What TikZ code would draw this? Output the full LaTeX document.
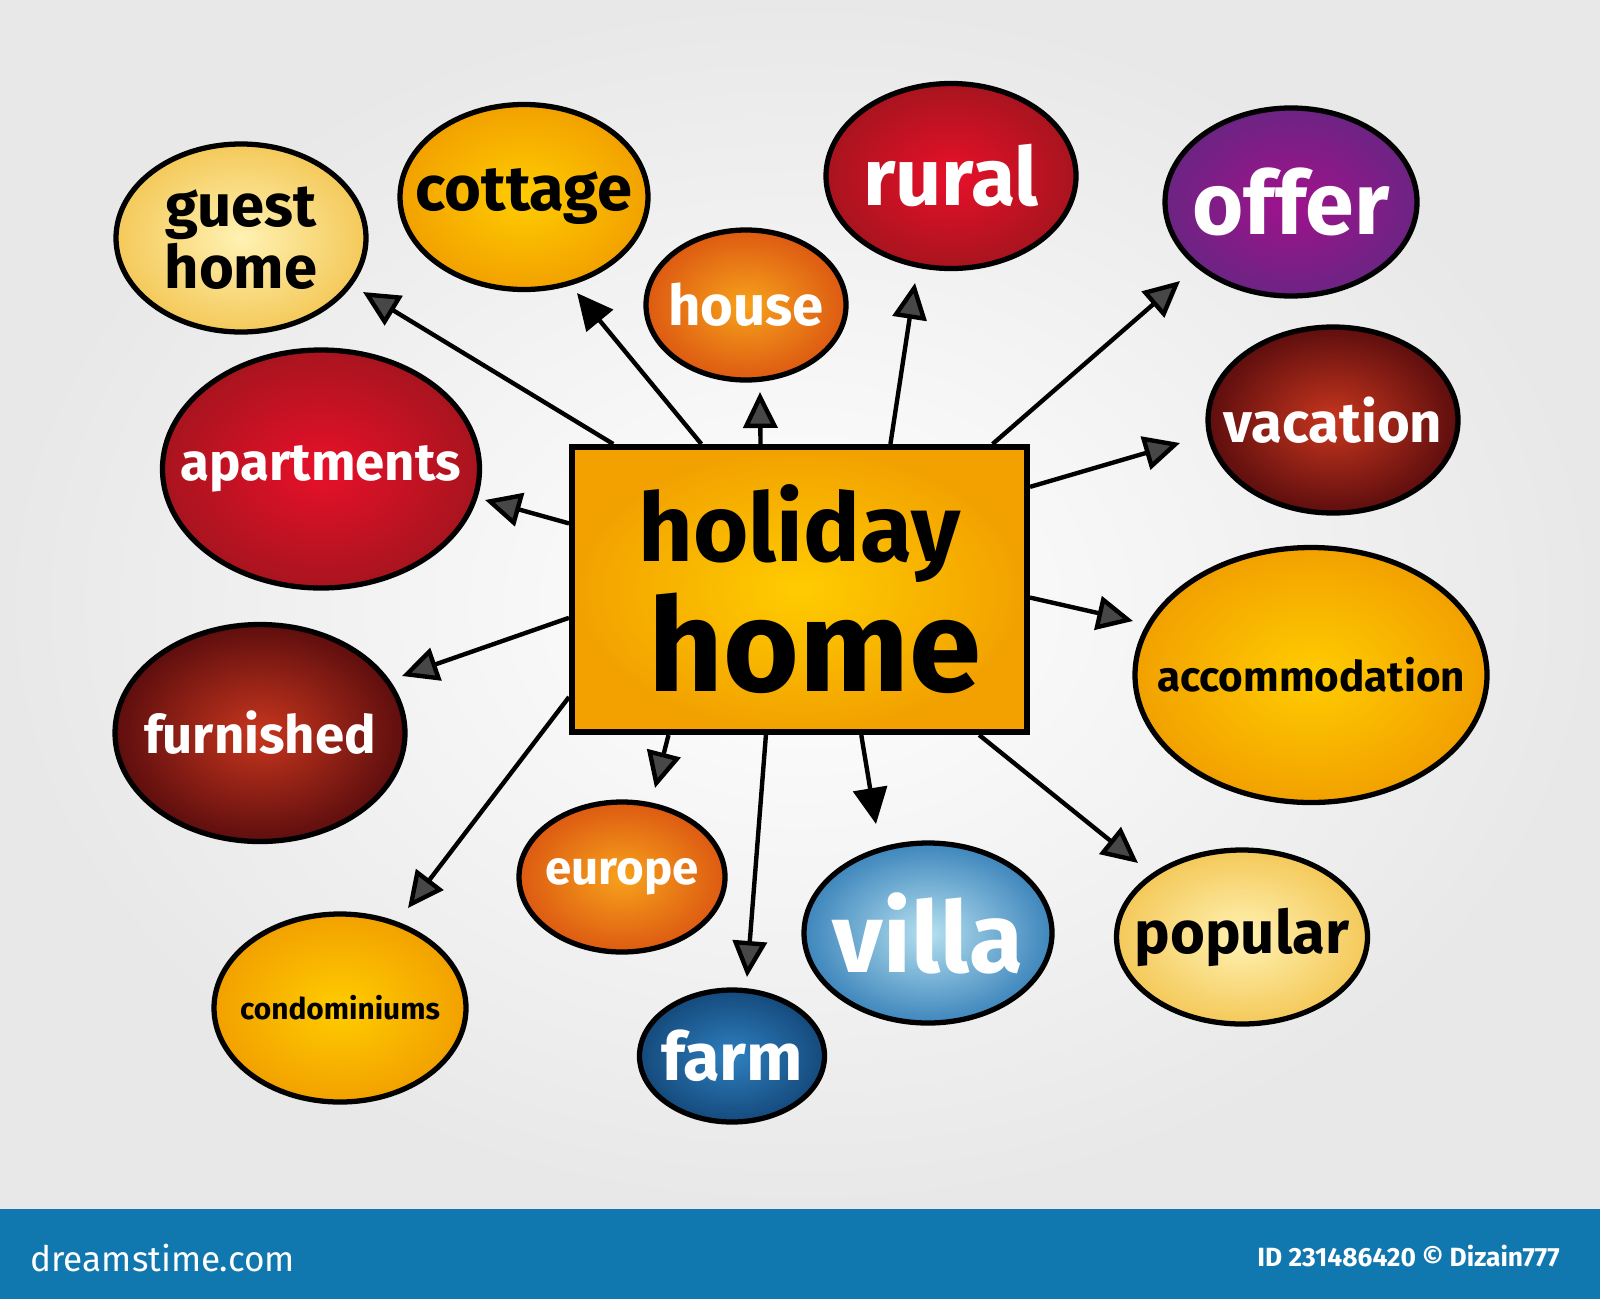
\documentclass[tikz,border=0pt]{standalone}
\usepackage{fontspec}
\setmainfont{Fira Sans}
\usepackage{xcolor}
\usetikzlibrary{shapes.geometric,arrows.meta}

\definecolor{bannerblue}{HTML}{1177AF}
\definecolor{ghin}{HTML}{FFF2B3}\definecolor{ghout}{HTML}{F4C95A}
\definecolor{ylin}{HTML}{FFCC00}\definecolor{ylout}{HTML}{F2A100}
\definecolor{orin}{HTML}{F7A21B}\definecolor{orout}{HTML}{DD5A12}
\definecolor{rdin}{HTML}{E8102A}\definecolor{rdout}{HTML}{A8141E}
\definecolor{puin}{HTML}{A0128C}\definecolor{puout}{HTML}{6C2483}
\definecolor{brin}{HTML}{C8361E}\definecolor{brout}{HTML}{5E0E0E}
\definecolor{blin}{HTML}{B5E0F0}\definecolor{blout}{HTML}{3E86BC}
\definecolor{dbin}{HTML}{2E80C0}\definecolor{dbout}{HTML}{154A7C}

\begin{document}
\begin{tikzpicture}[>=Triangle,
  bub/.style={ellipse, draw, line width=1.5pt, inner xsep=-1.2cm, inner ysep=0pt},
  hatch/.style={-{Triangle[length=3.6mm,width=3.4mm,fill=black!72]}, line width=1.25pt},
  fullhead/.style={-{Triangle[length=3.6mm,width=3.4mm]}, line width=1.25pt}]

% Draw background and banner
\useasboundingbox (0,0) rectangle (16,-12.99);
\shade[inner color=white, outer color=black!9] (0,0) rectangle (16,-12.09);
\fill[bannerblue] (0,-12.09) rectangle (16,-12.99);
\node[anchor=west, text=white, font=\fontsize{10}{10}\selectfont] (site) at (0.18,-12.58) {dreamstime.com};
\node[anchor=east, text=white, font=\bfseries\fontsize{7.5}{8}\selectfont] (ident) at (15.72,-12.56) {ID 231486420 © Dizain777};

% Draw central box
\node[draw, line width=1.7pt, inner color=ylin, outer color=ylout, minimum width=4.55cm, minimum height=2.85cm,
  align=center, font=\bfseries] (hh) at (7.995,-5.895)
  {\fontsize{27}{27}\selectfont holiday\\[2pt]\hspace*{0.3cm}\fontsize{37}{37}\selectfont home};

% Draw bubbles
\node[bub, minimum width=2.50cm, minimum height=1.88cm, inner color=ghin, outer color=ghout, align=center,
  font=\bfseries\fontsize{17}{16}\selectfont] (guest) at (2.41,-2.38) {guest\\home};
\node[bub, minimum width=2.48cm, minimum height=1.85cm, inner color=ylin, outer color=ylout,
  font=\bfseries\fontsize{18}{18}\selectfont] (cottage) at (5.24,-1.97) {cottage};
\node[bub, minimum width=2.00cm, minimum height=1.50cm, inner color=orin, outer color=orout, text=white,
  font=\bfseries\fontsize{16}{16}\selectfont] (house) at (7.46,-3.05) {house};
\node[bub, minimum width=2.50cm, minimum height=1.85cm, inner color=rdin, outer color=rdout, text=white,
  font=\bfseries\fontsize{23}{23}\selectfont] (rural) at (9.51,-1.76) {rural};
\node[bub, minimum width=2.52cm, minimum height=1.88cm, inner color=puin, outer color=puout, text=white,
  font=\bfseries\fontsize{25}{25}\selectfont] (offer) at (12.91,-2.02) {offer};
\node[bub, minimum width=2.50cm, minimum height=1.86cm, inner color=brin, outer color=brout, text=white,
  font=\bfseries\fontsize{16}{16}\selectfont] (vacation) at (13.33,-4.20) {vacation};
\node[bub, minimum width=3.17cm, minimum height=2.38cm, inner color=rdin, outer color=rdout, text=white,
  font=\bfseries\fontsize{15}{15}\selectfont] (apart) at (3.21,-4.69) {apartments};
\node[bub, minimum width=3.52cm, minimum height=2.55cm, inner color=ylin, outer color=ylout,
  font=\bfseries\fontsize{12}{12}\selectfont] (accom) at (13.11,-6.75) {accommodation};
\node[bub, minimum width=2.90cm, minimum height=2.17cm, inner color=brin, outer color=brout, text=white,
  font=\bfseries\fontsize{15}{15}\selectfont] (furn) at (2.60,-7.33) {furnished};
\node[bub, minimum width=2.06cm, minimum height=1.50cm, inner color=orin, outer color=orout, text=white,
  font=\bfseries\fontsize{13.5}{13.5}\selectfont] (europe) at (6.22,-8.77) {europe};
\node[bub, minimum width=2.48cm, minimum height=1.80cm, inner color=blin, outer color=blout, text=white,
  font=\bfseries\fontsize{28}{28}\selectfont] (villa) at (9.28,-9.33) {villa};
\node[bub, minimum width=2.51cm, minimum height=1.74cm, inner color=ghin, outer color=ghout,
  font=\bfseries\fontsize{17}{17}\selectfont] (popular) at (12.42,-9.37) {popular};
\node[bub, minimum width=2.52cm, minimum height=1.88cm, inner color=ylin, outer color=ylout,
  font=\bfseries\fontsize{8.5}{8.5}\selectfont] (condo) at (3.40,-10.08) {condominiums};
\node[bub, minimum width=1.85cm, minimum height=1.32cm, inner color=dbin, outer color=dbout, text=white,
  font=\bfseries\fontsize{19}{19}\selectfont] (farm) at (7.32,-10.56) {farm};

% Arrow ends
\coordinate (tguest) at (3.63,-2.92);
\coordinate (tcottage) at (5.77,-2.93);
\coordinate (thouse) at (7.60,-3.92);
\coordinate (trural) at (9.15,-2.83);
\coordinate (toffer) at (11.80,-2.81);
\coordinate (tvacation) at (11.80,-4.43);
\coordinate (taccom) at (11.33,-6.21);
\coordinate (tapart) at (4.85,-5.00);
\coordinate (tfurn) at (4.02,-6.76);
\coordinate (tcondo) at (4.08,-9.08);
\coordinate (teurope) at (6.55,-7.88);
\coordinate (tfarm) at (7.47,-9.77);
\coordinate (tvilla) at (8.76,-8.24);
\coordinate (tpopular) at (11.38,-8.63);

% Draw arrows
\draw[hatch] (hh.142.8) -- (tguest);
\draw[fullhead] (hh.124.9) -- (tcottage);
\draw[hatch] (hh.105.5) -- (thouse);
\draw[hatch] (hh.58.2) -- (trural);
\draw[hatch] (hh.37.8) -- (toffer);
\draw[hatch] (hh.24.3) -- (tvacation);
\draw[hatch] (hh.-2.6) -- (taccom);
\draw[hatch] (hh.164.2) -- (tapart);
\draw[hatch] (hh.187.6) -- (tfurn);
\draw[hatch] (hh.205.9) -- (tcondo);
\draw[hatch] (hh.228.0) -- (teurope);
\draw[hatch] (hh.257.9) -- (tfarm);
\draw[fullhead] (hh.293.7) -- (tvilla);
\draw[hatch] (hh.321.9) -- (tpopular);

\end{tikzpicture}
\end{document}
